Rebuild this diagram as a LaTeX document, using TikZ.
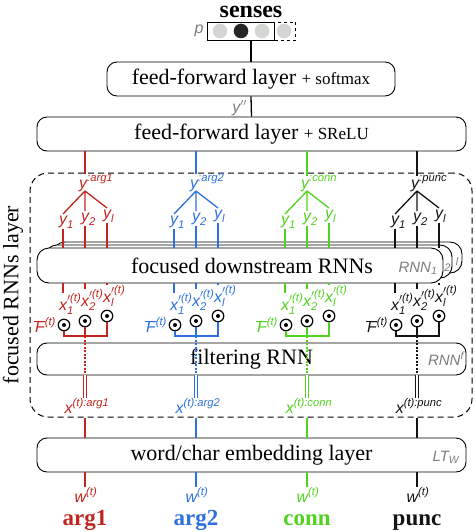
\documentclass[tikz,border=0pt]{standalone}
\usepackage{fontspec}
\usepackage{amsmath}
\setmainfont{Liberation Serif}
\newfontfamily\labfont{Liberation Sans}
\definecolor{cA}{RGB}{192,38,30}
\definecolor{cB}{RGB}{45,112,222}
\definecolor{cC}{RGB}{80,210,30}
\definecolor{cD}{RGB}{20,20,20}
\definecolor{lblgray}{RGB}{125,125,125}
\definecolor{dotgray}{RGB}{212,214,212}
\newcommand\sv[1]{\text{\labfont\itshape #1}}
\newcommand\barF{\rlap{\kern-0.08em\rule[0.66em]{0.36em}{0.08em}}F}
\begin{document}
\begin{tikzpicture}[x=1pt,y=-1pt,
  box/.style={draw, rounded corners=10pt, fill=white, line width=0.9pt, inner sep=0pt,
    align=center, font=\fontsize{22}{24}\selectfont},
  wire/.style={line width=1.3pt},
  lbl/.style={inner sep=0pt, font=\fontsize{16}{16}\selectfont},
  glab/.style={lbl, text=lblgray},
  odot/.style={circle, draw=black, line width=1.2pt, minimum size=11.5pt, inner sep=0pt, fill=white},
  cell/.style={draw, line width=0.9pt, minimum height=18pt, inner sep=0pt},
]
\useasboundingbox (0,0) rectangle (474,532);

% output
\node[font=\bfseries\fontsize{24}{24}\selectfont, anchor=base, inner sep=0pt] (senses) at (251,18) {senses};
\node[cell, minimum width=67pt] (vec) at (240.5,31) {};
\node[cell, dashed, minimum width=21pt, anchor=west] (vecx) at (vec.east) {};
\fill[dotgray] (220,31) circle (7.3);
\fill[black!85] (241,31) circle (7.3);
\fill[dotgray] (262,31) circle (7.3);
\fill[dotgray] (284,31) circle (7.3);
\node[glab] (plab) at (199,31) {\labfont\itshape p};

% top layers
\node[box, minimum width=288pt, minimum height=34pt] (ff1) at (251,79)
  {feed-forward layer {\fontsize{17}{17}\selectfont + softmax}};
\node[box, minimum width=429pt, minimum height=34pt] (ff2) at (251.5,134)
  {feed-forward layer {\fontsize{17}{17}\selectfont + SReLU}};
\draw[wire] (vec.south -| ff1.north) -- (ff1.north);
\draw[wire] (ff1.south) -- (ff2.north);
\node[glab, anchor=east] (ypp) at (247,108) {$\sv{y}''$};

% focused RNNs layer
\node[draw, dash pattern=on 6pt off 4pt, rounded corners=18pt, line width=1pt,
  minimum width=442pt, minimum height=244pt, inner sep=0pt] (frnn) at (251,295) {};
\node[rotate=90, font=\fontsize{22}{24}\selectfont] (frl) at (13,295) {focused RNNs layer};

\node[box, rounded corners=12pt, minimum width=409pt, minimum height=31pt] (rnnC) at (257.5,257.5) {};
\node[box, rounded corners=12pt, minimum width=407pt, minimum height=33pt] (rnnB) at (248.5,261.5) {};
\node[box, rounded corners=12pt, minimum width=406pt, minimum height=35pt] (rnnA) at (240,265.5) {};
\node[font=\fontsize{22}{24}\selectfont] (rnnAt) at (252,266) {focused downstream RNNs};
\node[glab, font=\fontsize{15}{15}\selectfont] (rnn1) at (418,268) {$\sv{RNN}_{\sv{1}}$};
\node[glab, font=\fontsize{11}{11}\selectfont] (rnn2) at (447.5,268) {\labfont\itshape 2};
\node[glab, font=\fontsize{11}{11}\selectfont] (rnnl) at (457,262) {\labfont\itshape l};

\node[box, minimum width=429pt, minimum height=32pt] (filt) at (251.5,359) {filtering RNN};
\node[glab, font=\fontsize{15}{15}\selectfont] (rnnf) at (446,359) {$\sv{RNN}^{\sv{f}}$};

\node[box, minimum width=429pt, minimum height=34pt] (emb) at (251.5,455) {word/char embedding layer};
\node[glab, font=\fontsize{15}{15}\selectfont] (ltw) at (446,457) {$\sv{LT}_{\sv{W}}$};

% columns
\foreach \cx/\col/\nm/\cname in {85/cA/a/arg1, 196/cB/b/arg2, 307/cC/c/conn, 417/cD/d/punc}{
  \coordinate (col\nm) at (\cx,0);
  \node[lbl, text=\col, anchor=base west] (ys\nm) at (\cx-6,188) {$\sv{y}^{\sv{:\cname}}$};
  \draw[wire,\col] (ff2.south -| col\nm) -- (col\nm |- ys\nm.north);
  \coordinate (ap\nm) at (\cx,191);
  \coordinate (b1\nm) at (\cx-22,214);
  \coordinate (b2\nm) at (\cx,211);
  \coordinate (b3\nm) at (\cx+22,208);
  \draw[wire,\col,line join=round] (b1\nm) -- (ap\nm) -- (b3\nm) (ap\nm) -- (b2\nm);
  \node[lbl, text=\col, anchor=north west] (y1\nm) at (\cx-26,216) {$\sv{y}_{\sv{1}}$};
  \node[lbl, text=\col, anchor=north west] (y2\nm) at (\cx-4,213) {$\sv{y}_{\sv{2}}$};
  \node[lbl, text=\col, anchor=north west] (y3\nm) at (\cx+18,210) {$\sv{y}_{\sv{l}}$};
  \draw[wire,\col] (b1\nm |- y1\nm.south) -- (b1\nm |- rnnA.north);
  \draw[wire,\col] (b2\nm |- y2\nm.south) -- (b2\nm |- rnnA.north);
  \draw[wire,\col] (b3\nm |- y3\nm.south) -- (b3\nm |- rnnA.north);
  % x' labels
  \node[lbl, text=\col, anchor=base west] (x1\nm) at (\cx-26,310) {$\sv{x}'^{\sv{(t)}}_{\sv{1}}$};
  \node[lbl, text=\col, anchor=base west] (x2\nm) at (\cx-4,306) {$\sv{x}'^{\sv{(t)}}_{\sv{2}}$};
  \node[lbl, text=\col, anchor=base west] (x3\nm) at (\cx+18,302) {$\sv{x}'^{\sv{(t)}}_{\sv{l}}$};
  \draw[wire,\col] (rnnA.south -| b1\nm) -- (b1\nm |- x1\nm.north);
  \draw[wire,\col] (rnnA.south -| b2\nm) -- (b2\nm |- x2\nm.north);
  \draw[wire,\col] (rnnA.south -| b3\nm) -- (b3\nm |- x3\nm.north);
  % gates
  \node[odot] (o1\nm) at (\cx-21,325) {};
  \node[odot] (o2\nm) at (\cx,321) {};
  \node[odot] (o3\nm) at (\cx+22,316) {};
  \fill (o1\nm.center) circle (2pt);
  \fill (o2\nm.center) circle (2pt);
  \fill (o3\nm.center) circle (2pt);
  \coordinate (hb\nm) at (\cx,336);
  \draw[wire,\col] (o1\nm.south) |- (hb\nm) -| (o3\nm.south);
  \draw[wire,\col] (o2\nm.south) -- (hb\nm);
  \draw[\col, line width=1.2pt, dash pattern=on 2pt off 1.5pt] (hb\nm) -- (hb\nm |- filt.south);
  \node[lbl, text=\col, anchor=east] (f\nm) at ([xshift=-1.5pt]o1\nm.west) {$\sv{\barF}^{\sv{(t)}}$};
  % input
  \node[lbl, text=\col, anchor=base] (xb\nm) at (\cx+2,413) {$\sv{x}^{\sv{(t):\cname}}$};
  \draw[\col, double, double distance=2pt, line width=1pt] (filt.south -| col\nm) -- (col\nm |- xb\nm.north);
  \draw[wire,\col] (frnn.south -| col\nm) -- (emb.north -| col\nm);
  \node[lbl, text=\col, anchor=base] (w\nm) at (\cx+1,502) {$\sv{w}^{\sv{(t)}}$};
  \draw[wire,\col] (emb.south -| col\nm) -- (col\nm |- w\nm.north);
  \node[text=\col, font=\bfseries\fontsize{23}{23}\selectfont, anchor=base, inner sep=0pt] (n\nm) at (\cx,525) {\cname};
}
\end{tikzpicture}
\end{document}
